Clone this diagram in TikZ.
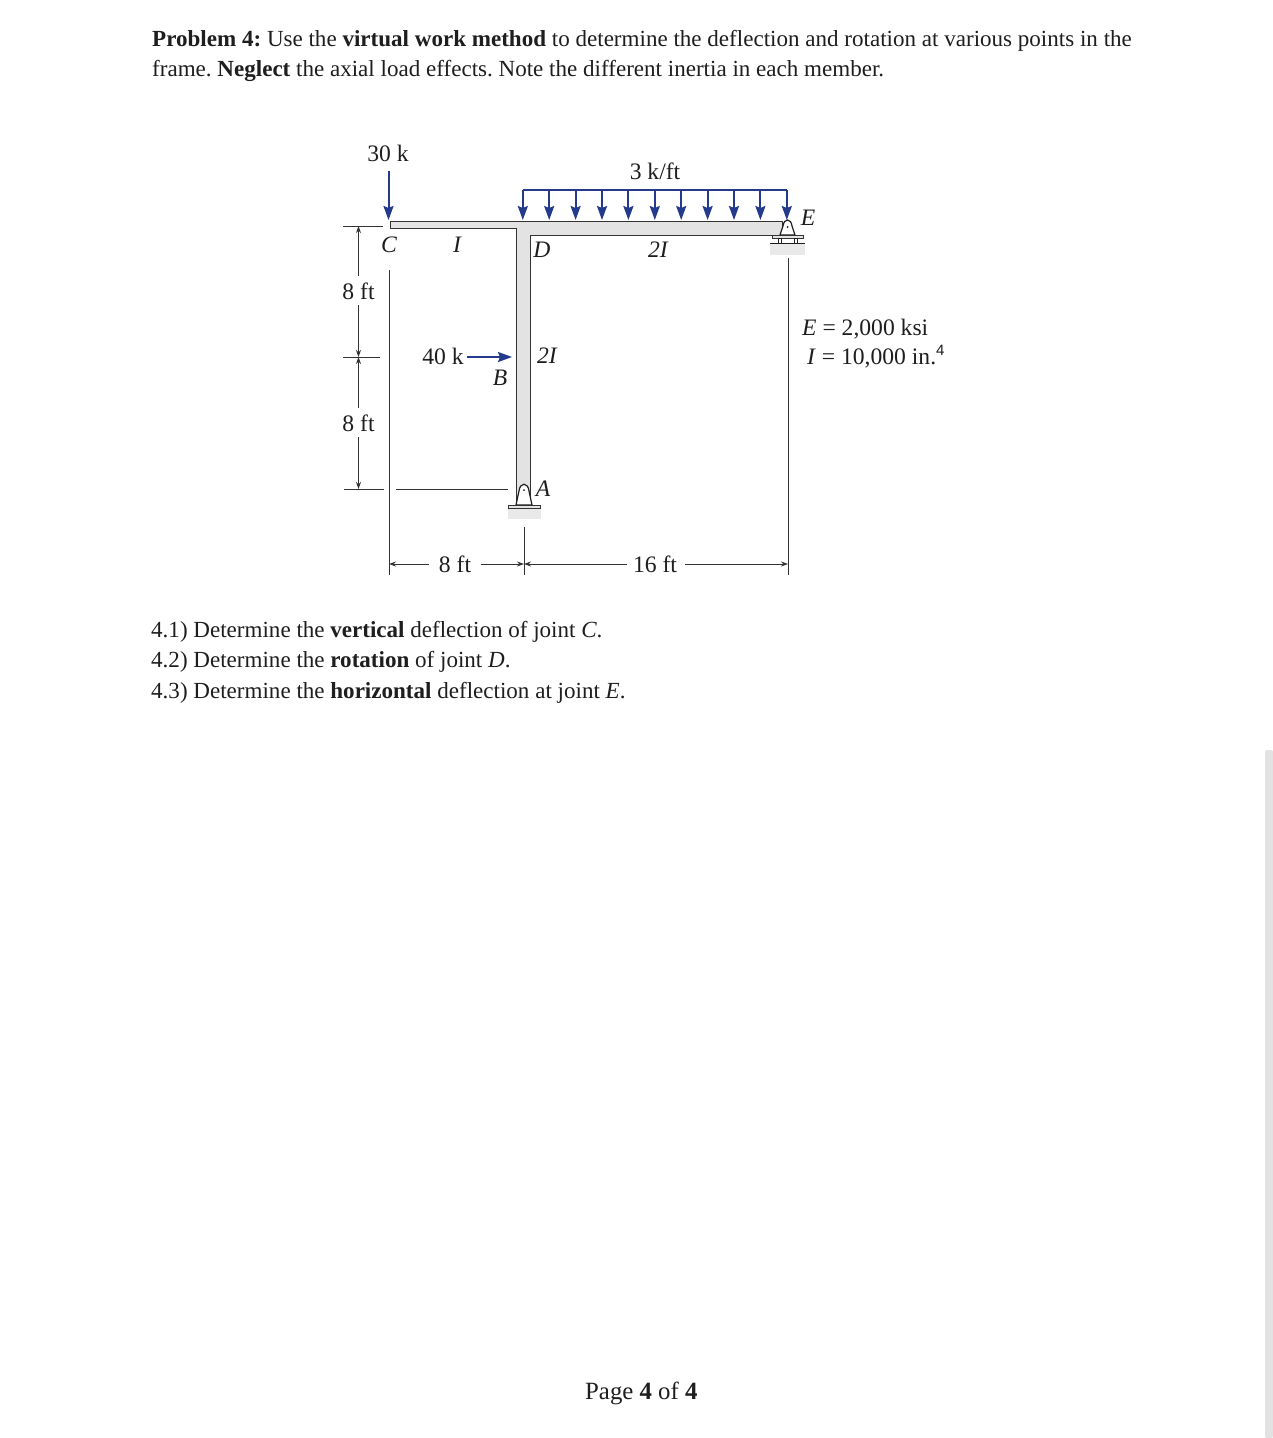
\documentclass[tikz,border=0pt]{standalone}
\usepackage{fontspec}
\setmainfont{Liberation Serif}
\newfontfamily\supfont{Liberation Sans}
\usetikzlibrary{arrows.meta}
\definecolor{ink}{HTML}{1E1E1E}
\definecolor{dimink}{HTML}{333333}
\definecolor{loadblue}{HTML}{243A8C}
\definecolor{member}{HTML}{E3E3E3}
\definecolor{soil}{HTML}{E9E9E9}
\definecolor{scroll}{HTML}{E2E2E2}
\tikzset{
  page/.style={anchor=base west,inner sep=0pt,font=\fontsize{23.05}{28}\selectfont\frenchspacing,text=ink},
  fig/.style={inner sep=0pt,font=\fontsize{23.6}{27}\selectfont,text=ink},
  figit/.style={inner sep=0pt,font=\fontsize{23.6}{27}\selectfont\itshape,text=ink},
  dimline/.style={draw=dimink,line width=1pt},
  dimarrow/.style={dimline,-{Stealth[length=7pt,width=5pt]}},
  load/.style={draw=loadblue,line width=1.5pt},
  loadarrow/.style={load,line width=2pt,-{Stealth[length=14pt,width=10pt,inset=2pt]}},
  beam/.style={fill=member,draw=dimink,line width=1pt},
  support/.style={fill=white,draw=ink,line width=1.2pt},
  plate/.style={fill=member,draw=dimink,line width=0.9pt},
}
\begin{document}
\begin{tikzpicture}[x=1pt,y=-1pt]
\useasboundingbox[fill=white] (0,0) rectangle (1273,1438);
% scrollbar
\fill[scroll,rounded corners=2pt] (1265,750) rectangle (1273,1438);
% page text
\node[page] (l1) at (152,46) {\textbf{Problem 4:} Use the \textbf{virtual work method} to determine the deflection and rotation at various points in the};
\node[page] (l2) at (152,76) {frame. \textbf{Neglect} the axial load effects. Note the different inertia in each member.};
\node[page] (q1) at (151,637) {4.1) Determine the \textbf{vertical} deflection of joint \textit{C}.};
\node[page] (q2) at (151,667) {4.2) Determine the \textbf{rotation} of joint \textit{D}.};
\node[page] (q3) at (151,698) {4.3) Determine the \textbf{horizontal} deflection at joint \textit{E}.};
\node[page,font=\fontsize{24.8}{28}\selectfont] (pg) at (585,1399) {Page \textbf{4} of \textbf{4}};
% soil patches
\fill[soil] (508,508) rectangle (541,519);
\fill[soil] (770,244) rectangle (805,255);
% frame
\draw[beam] (390,221) -- (782,221) -- (782,235) -- (530,235) -- (530,505) -- (516.5,505) -- (516.5,228.5) -- (390,228.5) -- cycle;
% support A
\draw[support] (516,505) -- (519,491) .. controls (520,482) and (528,482) .. (529,491) -- (532,505) -- cycle;
\fill[ink] (524,490) circle (1pt);
\draw[plate] (508,505) rectangle (540,508.5);
% support E
\draw[support] (780,235) -- (783,226) .. controls (784,218) and (791,218) .. (792,226) -- (795,235) -- cycle;
\fill[ink] (787.5,227) circle (1pt);
\draw[plate] (772,235) rectangle (803,238.5);
\draw[support,line width=0.9pt] (778,238.5) rectangle (781,243);
\draw[support,line width=0.9pt] (794,238.5) rectangle (797,243);
\draw[ink,line width=1.2pt] (770,243.7) -- (805,243.7);
% UDL
\draw[load] (522.6,190) -- (787,190);
\foreach \i in {0,...,10}{
  \draw[loadarrow] ({522.8+26.4*\i},190) -- ({522.8+26.4*\i},220);
}
% point loads
\draw[loadarrow] (388.5,171) -- (388.5,220);
\draw[loadarrow] (467,357) -- (512,357);
% dimension lines
\draw[dimline] (343,226) -- (383,226);
\draw[dimline] (343,357) -- (380,357);
\draw[dimline] (344,489) -- (384,489);
\draw[dimline] (396,489) -- (508,489);
\draw[dimline] (389,270) -- (389,575);
\draw[dimline] (524,527) -- (524,575);
\draw[dimline] (788,258) -- (788,575);
\draw[dimarrow] (358.5,276) -- (358.5,226);
\draw[dimarrow] (358.5,305) -- (358.5,357);
\draw[dimarrow] (358.5,408) -- (358.5,357);
\draw[dimarrow] (358.5,437) -- (358.5,489);
\draw[dimarrow] (429,564) -- (389,564);
\draw[dimarrow] (481,564) -- (524,564);
\draw[dimarrow] (627,564) -- (524,564);
\draw[dimarrow] (685,564) -- (788,564);
% figure labels
\node[fig] (p30) at (388,153) {30 k};
\node[fig] (w) at (655,171) {3 k/ft};
\node[fig] (p40) at (443,356) {40 k};
\node[fig] (d1) at (358.5,291) {8 ft};
\node[fig] (d2) at (358.5,423) {8 ft};
\node[fig] (d3) at (455,564) {8 ft};
\node[fig] (d4) at (655,564) {16 ft};
\node[figit] (C) at (389,245) {C};
\node[figit] (I1) at (457,245) {I};
\node[figit] (D) at (542,250) {D};
\node[figit] (I2) at (658,250) {2I};
\node[figit] (E) at (808,218) {E};
\node[figit] (I3) at (547,356) {2I};
\node[figit] (B) at (500,378) {B};
\node[figit] (A) at (543,489) {A};
\node[fig,anchor=base west] (vE) at (802,335) {\textit{E}\hspace{.25em}=\hspace{.25em}2,000 ksi};
\node[fig,anchor=base west] (vI) at (807,364) {\textit{I}\hspace{.25em}=\hspace{.25em}10,000 in.\raisebox{0.36em}{\supfont\fontsize{15}{16}\selectfont 4}};
\end{tikzpicture}
\end{document}
